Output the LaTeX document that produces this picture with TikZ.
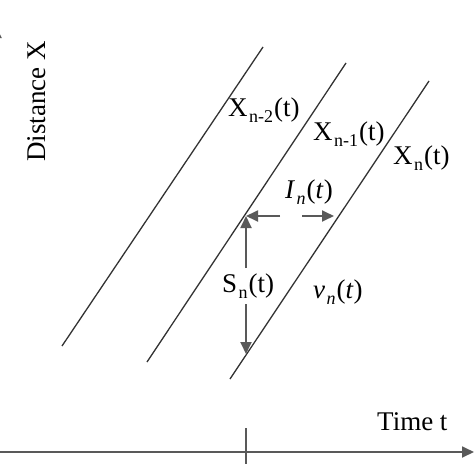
\documentclass[tikz,border=0pt]{standalone}
\usepackage{fontspec}
\setmainfont{Liberation Serif}
\usetikzlibrary{arrows.meta}
\newcommand{\sbx}[1]{\kern1.5pt\raisebox{-6pt}{\fontsize{18}{18}\selectfont #1}\kern1pt}
\begin{document}
\begin{tikzpicture}[x=1pt,y=-1pt,
 traj/.style={draw=black!80, line width=1.3pt},
 arr/.style={draw=black!65, line width=1.8pt, -{Triangle[length=12pt,width=11pt]}},
 lab/.style={font=\fontsize{27}{29}\selectfont, inner sep=0pt, anchor=base west}]
\useasboundingbox (0,0) rectangle (474,474);
% trajectories
\coordinate (a1) at (263,47);  \coordinate (a2) at (62,346);
\coordinate (b1) at (346,63);  \coordinate (b2) at (147,362);
\coordinate (c1) at (429,81);  \coordinate (c2) at (230,379);
\draw[traj] (a1) -- (a2);
\draw[traj] (b1) -- (b2);
\draw[traj] (c1) -- (c2);
% axes
\coordinate (t0) at (-5,452); \coordinate (t1) at (474,452);
\draw[arr] (t0) -- (t1);
\coordinate (k1) at (246,428); \coordinate (k2) at (246,464);
\draw[draw=black!65, line width=1.8pt] (k1) -- (k2);
\coordinate (y0) at (-4,452); \coordinate (y1) at (-4,26);
\draw[arr] (y0) -- (y1);
% labels
\node[lab] (xn2) at (228,116) {X\sbx{n-2}(t)};
\node[lab] (xn1) at (313,140) {X\sbx{n-1}(t)};
\node[lab] (xn) at (393,164) {X\sbx{n}(t)};
\node[lab] (in) at (285,198) {\textit{I}\sbx{\textit{n}}(\textit{t})};
\node[lab] (sn) at (222,292) {S\sbx{n}(t)};
\node[lab] (vn) at (313,298) {\textit{v}\sbx{\textit{n}}(\textit{t})};
\node[lab] (tt) at (377,430) {Time t};
\node[lab, rotate=90] (dx) at (45,162) {Distance X};
% gap arrows
\coordinate (p) at (246,216);
\coordinate (il) at (280,216); \coordinate (ir) at (302,216); \coordinate (q) at (334,216);
\draw[arr] (il) -- (p);
\draw[arr] (ir) -- (q);
\coordinate (su) at (246,268); \coordinate (sd) at (246,304); \coordinate (r) at (246,354);
\draw[arr] (su) -- (p);
\draw[arr] (sd) -- (r);
\end{tikzpicture}
\end{document}
